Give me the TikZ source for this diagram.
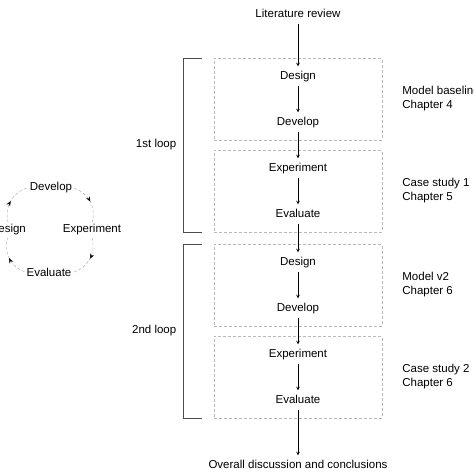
\documentclass[tikz,border=0pt]{standalone}
\usepackage{fontspec}
\setmainfont{Liberation Sans}
\usetikzlibrary{positioning,fit,calc,decorations.markings,arrows.meta}

\tikzstyle{stage} = [rectangle, text height=8pt, text depth=2pt, inner sep=4.5pt]
\tikzstyle{phase} = [rectangle, draw=gray!55, dash pattern=on 3pt off 2pt, minimum width=168pt, inner xsep=0pt, inner ysep=8pt]
\tikzstyle{arrow} = [semithick,->,>=stealth]
\tikzstyle{bracket} = [thick, draw=black!70]
\tikzstyle{note} = [align=left, inner sep=0pt, font=\fontsize{11.5}{14}\selectfont]
\tikzstyle{cyclelabel} = [inner sep=2pt]
\tikzstyle{cyclearrow} = [draw=gray!70, dash pattern=on 3pt off 2pt, bend left=45, postaction={decorate}, decoration={markings, mark=at position 0.5 with {\arrow[black]{Stealth[length=5pt,width=4pt]}}}]

\begin{document}
\begin{tikzpicture}[x=1pt, y=1pt, node distance=46pt, font=\fontsize{11.5}{13}\selectfont]
\useasboundingbox (0,0) rectangle (474,-474);

% main column
\node (litreview) [stage] at (298,-14) {Literature review};
\node (design1) [stage, node distance=62pt, below of=litreview] {Design};
\node (develop1) [stage, below of=design1] {Develop};
\node (experiment1) [stage, below of=develop1] {Experiment};
\node (evaluate1) [stage, below of=experiment1] {Evaluate};
\node (design2) [stage, node distance=48pt, below of=evaluate1] {Design};
\node (develop2) [stage, below of=design2] {Develop};
\node (experiment2) [stage, below of=develop2] {Experiment};
\node (evaluate2) [stage, below of=experiment2] {Evaluate};
\node (conclusions) [stage, node distance=65pt, below of=evaluate2] {Overall discussion and conclusions};

% dashed phases
\node (loop1) [phase, fit=(design1)(develop1)] {};
\node (loop2) [phase, fit=(experiment1)(evaluate1)] {};
\node (loop3) [phase, fit=(design2)(develop2)] {};
\node (loop4) [phase, fit=(experiment2)(evaluate2)] {};

\draw [arrow] (litreview) -- (design1);
\draw [arrow] (design1) -- (develop1);
\draw [arrow] (develop1) -- (experiment1);
\draw [arrow] (experiment1) -- (evaluate1);
\draw [arrow] (evaluate1) -- (design2);
\draw [arrow] (design2) -- (develop2);
\draw [arrow] (develop2) -- (experiment2);
\draw [arrow] (experiment2) -- (evaluate2);
\draw [arrow] (evaluate2) -- (conclusions);

% chapters
\node [note, right=20pt of loop1] {Model baseline\\Chapter 4};
\node [note, right=20pt of loop2] {Case study 1\\Chapter 5};
\node [note, right=20pt of loop3] {Model v2\\Chapter 6};
\node [note, right=20pt of loop4] {Case study 2\\Chapter 6};

% loop brackets
\draw [bracket] ([xshift=-12pt]loop1.north west) -- ++(-18pt,0) |- ([xshift=-12pt]loop2.south west);
\draw [bracket] ([xshift=-12pt]loop3.north west) -- ++(-18pt,0) |- ([xshift=-12pt]loop4.south west);
\coordinate (mid1) at ($(loop1.north west)!0.5!(loop2.south west)$);
\coordinate (mid2) at ($(loop3.north west)!0.5!(loop4.south west)$);
\node (firstloop) [left=34pt of mid1] {1st loop};
\node (secondloop) [left=34pt of mid2] {2nd loop};

% cycle
\node (cdevelop) [cyclelabel] at (51,-188) {Develop};
\node (cexperiment) [cyclelabel] at (92,-230) {Experiment};
\node (cevaluate) [cyclelabel] at (49,-272) {Evaluate};
\node (cdesign) [cyclelabel] at (8,-230) {Design};
\draw [cyclearrow] (cdesign) to (cdevelop);
\draw [cyclearrow] (cdevelop) to (cexperiment);
\draw [cyclearrow] (cexperiment) to (cevaluate);
\draw [cyclearrow] (cevaluate) to (cdesign);
\end{tikzpicture}
\end{document}
